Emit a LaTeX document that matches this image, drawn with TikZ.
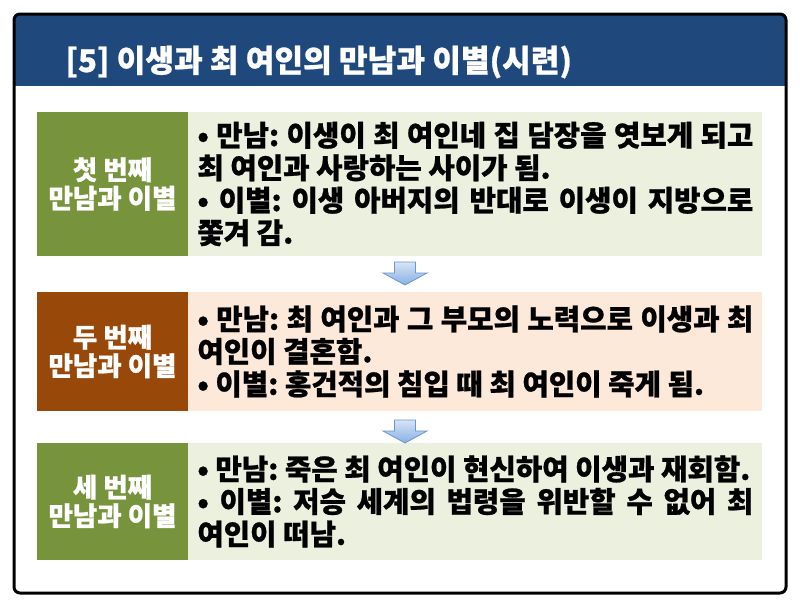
\documentclass[tikz,border=0pt]{standalone}
\usepackage{fontspec}
\setmainfont{Noto Sans CJK KR}[BoldFeatures={FakeBold=0.8}]
\usetikzlibrary{positioning}
\definecolor{barblue}{RGB}{31,73,125}
\definecolor{labgreen}{RGB}{119,147,60}
\definecolor{labbrown}{RGB}{152,72,8}
\definecolor{txtgreen}{RGB}{235,241,222}
\definecolor{txtpeach}{RGB}{253,233,217}
\definecolor{arrtop}{RGB}{214,228,246}
\definecolor{arrbot}{RGB}{135,176,228}
\definecolor{arrline}{RGB}{110,150,205}
\frenchspacing
\begin{document}
\begin{tikzpicture}[x=1pt,y=-1pt,
	labbox/.style={minimum width=151pt,text=white,align=center,inner sep=0pt,font=\fontsize{26.5}{28.5}\selectfont\bfseries},
	txtbox/.style={minimum width=574pt,text width=556pt,align=justify,inner xsep=9pt,inner ysep=0pt,font=\fontsize{28.7}{32.5}\selectfont\bfseries},
	blockarrow/.style={draw=arrline,line width=0.8pt,top color=arrtop,bottom color=arrbot}]
			\useasboundingbox (0,0) rectangle (800,608);
			\begin{scope}
				\clip[rounded corners=6pt] (14,14) rectangle (786,593);
				\fill[white] (14,14) rectangle (786,593);
				\fill[barblue] (14,14) rectangle (786,86);
			\end{scope}
			\draw[line width=3pt,rounded corners=6pt] (14,14) rectangle (786,593);
			\node[anchor=west,text=white,font=\fontsize{31.2}{34}\selectfont\bfseries] (title) at (62,62) {[5] 이생과 최 여인의 만남과 이별(시련)};
			% first
			\node[labbox,fill=labgreen,minimum height=144pt] (lab1) at (112.5,184) {첫 번째\\만남과 이별};
			\node[txtbox,fill=txtgreen,minimum height=144pt,right=0pt of lab1] (txt1) {• 만남: 이생이 최 여인네 집 담장을 엿보게 되고\linebreak 최 여인과 사랑하는 사이가 됨.\par • 이별: 이생 아버지의 반대로 이생이 지방으로\linebreak 쫓겨 감.};
			% second
			\node[labbox,fill=labbrown,minimum height=119pt] (lab2) at (112.5,351.5) {두 번째\\만남과 이별};
			\node[txtbox,fill=txtpeach,minimum height=119pt,right=0pt of lab2] (txt2) {• 만남: 최 여인과 그 부모의 노력으로 이생과 최\linebreak 여인이 결혼함.\par • 이별: 홍건적의 침입 때 최 여인이 죽게 됨.};
			% third
			\node[labbox,fill=labgreen,minimum height=117pt] (lab3) at (112.5,501.5) {세 번째\\만남과 이별};
			\node[txtbox,fill=txtgreen,minimum height=117pt,right=0pt of lab3] (txt3) {• 만남: 죽은 최 여인이 현신하여 이생과 재회함.\par • 이별: 저승 세계의 법령을 위반할 수 없어 최\linebreak 여인이 떠남.};
			% arrows
			\coordinate (a1) at (405,262);
			\coordinate (a2) at (405,420);
			\foreach \a in {a1,a2}
				\draw[blockarrow] (\a) +(-10.5,0) -- +(10.5,0) -- +(10.5,11) -- +(22,11) -- +(0,23) -- +(-22,11) -- +(-10.5,11) -- cycle;
		\end{tikzpicture}
\end{document}
